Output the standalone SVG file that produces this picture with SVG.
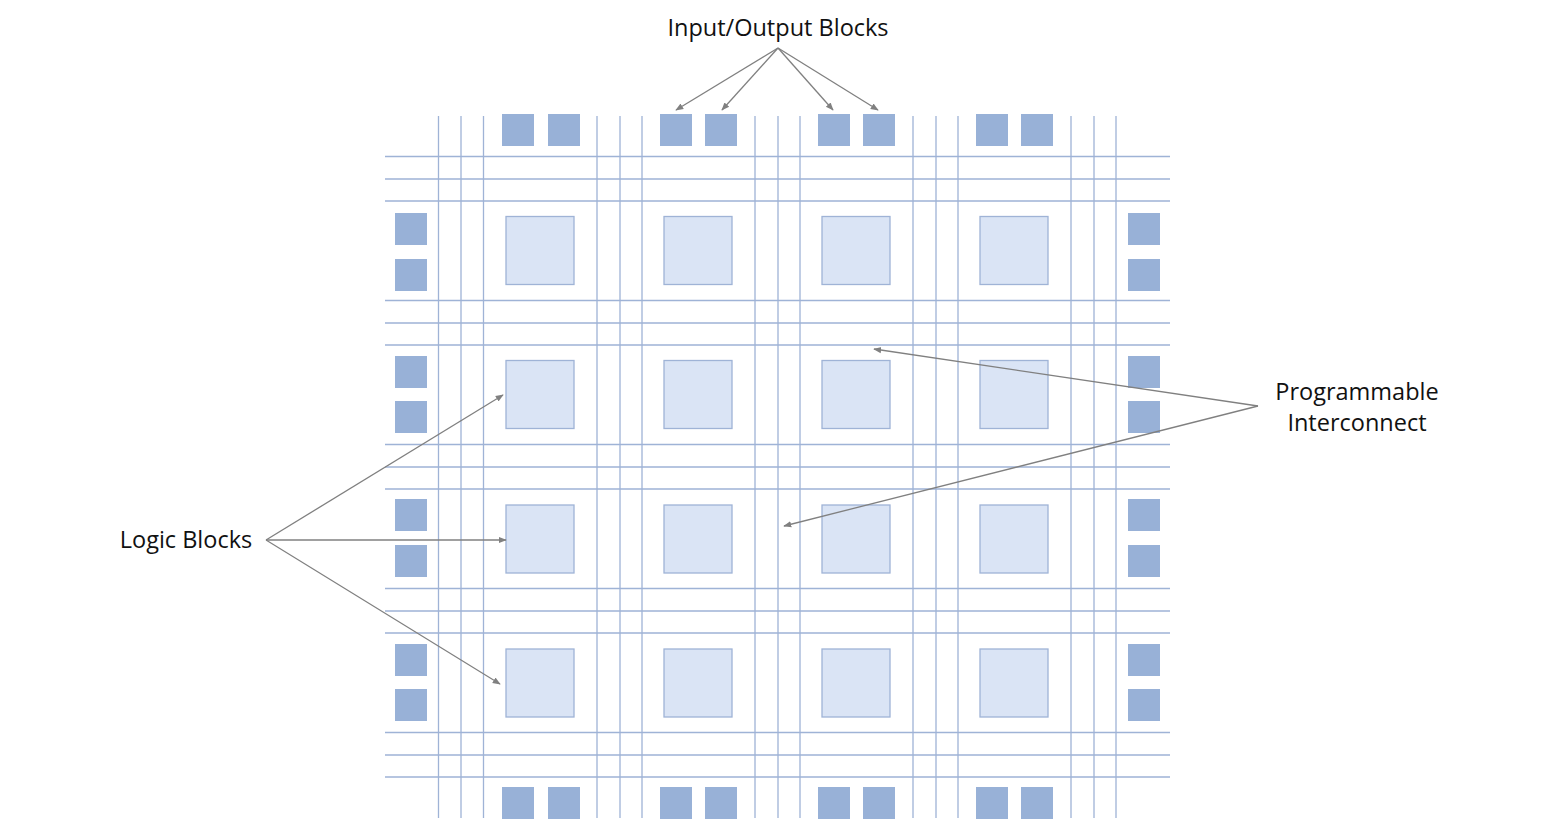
<svg xmlns="http://www.w3.org/2000/svg" width="1560" height="833" viewBox="0 0 1560 833">
<style>
.g{stroke:#9fb3d6;stroke-width:1.3}
.io{fill:#98b1d7}
.lb{fill:#dae4f5;stroke:#9fb3d6;stroke-width:1.3}
.t{font-family:"Open Sans",sans-serif;font-size:23.5px;fill:#111}
.a{stroke:#808080;stroke-width:1.3;fill:none;marker-end:url(#ah)}
</style>
<defs>
<marker id="ah" viewBox="0 0 10 10" refX="9" refY="5" markerWidth="8" markerHeight="8" orient="auto" markerUnits="userSpaceOnUse"><path d="M0,1 L10,5 L0,9 z" fill="#808080"/></marker>
</defs>
<rect width="1560" height="833" fill="#fff"/>
<g id="grid">
<g class="g">
<path d="M385,156.5H1170M385,179H1170M385,201H1170M385,300.5H1170M385,323H1170M385,345H1170M385,444.5H1170M385,467H1170M385,489H1170M385,588.5H1170M385,611H1170M385,633H1170M385,732.5H1170M385,755H1170M385,777H1170"/>
<path d="M438.5,116V818M461,116V818M483.5,116V818M597,116V818M620,116V818M642,116V818M755,116V818M778,116V818M800,116V818M913,116V818M936,116V818M958,116V818M1071,116V818M1094,116V818M1116,116V818"/>
</g>
</g>
<g id="logic-blocks">
<rect class="lb" x="506" y="216.5" width="68" height="68"/><rect class="lb" x="664" y="216.5" width="68" height="68"/><rect class="lb" x="822" y="216.5" width="68" height="68"/><rect class="lb" x="980" y="216.5" width="68" height="68"/>
<rect class="lb" x="506" y="360.5" width="68" height="68"/><rect class="lb" x="664" y="360.5" width="68" height="68"/><rect class="lb" x="822" y="360.5" width="68" height="68"/><rect class="lb" x="980" y="360.5" width="68" height="68"/>
<rect class="lb" x="506" y="505" width="68" height="68"/><rect class="lb" x="664" y="505" width="68" height="68"/><rect class="lb" x="822" y="505" width="68" height="68"/><rect class="lb" x="980" y="505" width="68" height="68"/>
<rect class="lb" x="506" y="649" width="68" height="68"/><rect class="lb" x="664" y="649" width="68" height="68"/><rect class="lb" x="822" y="649" width="68" height="68"/><rect class="lb" x="980" y="649" width="68" height="68"/>
</g>
<g id="io-blocks" class="io">
<rect x="502" y="114" width="32" height="32"/><rect x="548" y="114" width="32" height="32"/><rect x="660" y="114" width="32" height="32"/><rect x="705" y="114" width="32" height="32"/><rect x="818" y="114" width="32" height="32"/><rect x="863" y="114" width="32" height="32"/><rect x="976" y="114" width="32" height="32"/><rect x="1021" y="114" width="32" height="32"/>
<rect x="502" y="787" width="32" height="32"/><rect x="548" y="787" width="32" height="32"/><rect x="660" y="787" width="32" height="32"/><rect x="705" y="787" width="32" height="32"/><rect x="818" y="787" width="32" height="32"/><rect x="863" y="787" width="32" height="32"/><rect x="976" y="787" width="32" height="32"/><rect x="1021" y="787" width="32" height="32"/>
<rect x="395" y="213" width="32" height="32"/><rect x="395" y="259" width="32" height="32"/><rect x="395" y="356" width="32" height="32"/><rect x="395" y="401" width="32" height="32"/><rect x="395" y="499" width="32" height="32"/><rect x="395" y="545" width="32" height="32"/><rect x="395" y="644" width="32" height="32"/><rect x="395" y="689" width="32" height="32"/>
<rect x="1128" y="213" width="32" height="32"/><rect x="1128" y="259" width="32" height="32"/><rect x="1128" y="356" width="32" height="32"/><rect x="1128" y="401" width="32" height="32"/><rect x="1128" y="499" width="32" height="32"/><rect x="1128" y="545" width="32" height="32"/><rect x="1128" y="644" width="32" height="32"/><rect x="1128" y="689" width="32" height="32"/>
</g>
<g id="labels" class="t">
<text x="778" y="36" text-anchor="middle">Input/Output Blocks</text>
<text x="186" y="548" text-anchor="middle">Logic Blocks</text>
<text x="1357" y="400" text-anchor="middle">Programmable</text>
<text x="1357" y="431" text-anchor="middle">Interconnect</text>
</g>
<g id="connectors">
<path class="a" d="M778,48L676,110"/><path class="a" d="M778,48L722,110"/><path class="a" d="M778,48L833,110"/><path class="a" d="M778,48L878,110"/>
<path class="a" d="M266,540L503,395"/><path class="a" d="M266,540L506,540"/><path class="a" d="M266,540L500,684"/>
<path class="a" d="M1258,406L874,349"/><path class="a" d="M1258,406L784,526"/>
</g>
</svg>
